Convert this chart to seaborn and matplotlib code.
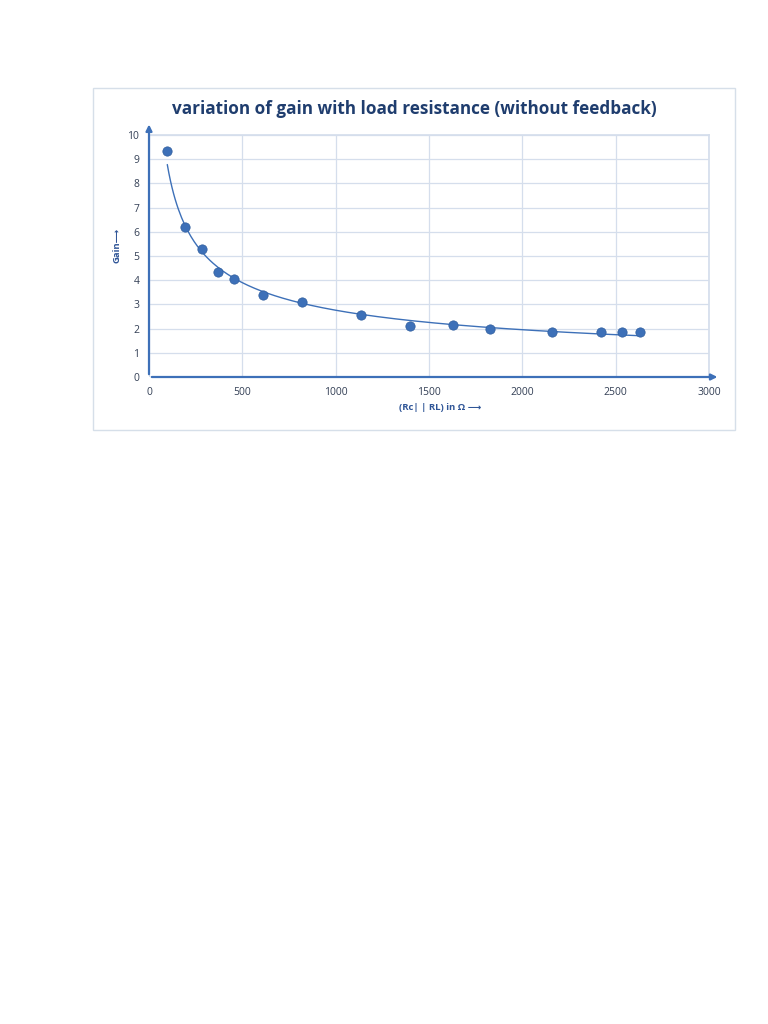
import numpy as np
import pandas as pd
import matplotlib
matplotlib.use("Agg")
import matplotlib.pyplot as plt
import seaborn as sns

# values
resistance = [98, 195, 282, 368, 454, 609, 822, 1138, 1400, 1631, 1828, 2160, 2422, 2533, 2633]
gain = [9.34, 6.20, 5.28, 4.35, 4.03, 3.40, 3.08, 2.58, 2.10, 2.16, 1.98, 1.84, 1.84, 1.84, 1.84]
x_ticks = [0, 500, 1000, 1500, 2000, 2500, 3000]
y_ticks = list(range(0, 11))

df = pd.DataFrame({"R": resistance, "Gain": gain})

sns.set_theme(style="white")
plt.rcParams["font.family"] = ["Open Sans", "DejaVu Sans"]

blue = "#3d70b8"
navy = "#1f3d6e"
grid_col = "#d5deec"

fig = plt.figure(figsize=(7.68, 10.24), dpi=100)

# light frame of the chart area
fig.patches.append(plt.Rectangle((93 / 768, 1 - 430 / 1024), 642 / 768, 342 / 1024,
                                 transform=fig.transFigure, fill=False,
                                 edgecolor="#d6dfe9", linewidth=1.0))

ax = fig.add_axes([149 / 768, 1 - 377 / 1024, 560 / 768, 242 / 1024])

# power trendline fitted in log-log space
b, log_a = np.polyfit(np.log(df["R"]), np.log(df["Gain"]), 1)
xs = np.linspace(df["R"].min(), df["R"].max(), 300)
trend = pd.DataFrame({"R": xs, "Gain": np.exp(log_a) * xs ** b})
sns.lineplot(data=trend, x="R", y="Gain", ax=ax, color=blue, linewidth=1.0)

sns.scatterplot(data=df, x="R", y="Gain", ax=ax, color=blue, s=45,
                edgecolor="#2f5e9e", linewidth=0.5, zorder=5)

ax.set_xlim(0, 3000)
ax.set_ylim(0, 10)
ax.set_xticks(x_ticks)
ax.set_yticks(y_ticks)
ax.grid(True, color=grid_col, linewidth=0.9)
ax.tick_params(axis="both", labelsize=7.5, colors="#333f55", length=0, pad=7)
ax.set_xlabel("")
ax.set_ylabel("")
for side in ["top", "right"]:
    ax.spines[side].set_color(grid_col)
for side in ["left", "bottom"]:
    ax.spines[side].set_visible(False)

# axis arrows
ax.annotate("", xy=(3060, 0), xytext=(0, 0), xycoords="data",
            arrowprops=dict(arrowstyle="-|>", color=blue, lw=1.6, mutation_scale=9),
            annotation_clip=False)
ax.annotate("", xy=(0, 10.55), xytext=(0, 0), xycoords="data",
            arrowprops=dict(arrowstyle="-|>", color=blue, lw=1.6, mutation_scale=9),
            annotation_clip=False)

fig.text(414 / 768, 1 - 109 / 1024, "variation of gain with load resistance (without feedback)",
         ha="center", va="center", fontsize=12.3, fontweight="bold", color=navy)
fig.text(440 / 768, 1 - 408 / 1024, "(Rc| | RL) in \u03a9 \u27f6",
         ha="center", va="center", fontsize=6.8, fontweight="bold", color="#2f5597")
fig.text(117 / 768, 1 - 245 / 1024, "Gain\u27f6", rotation=90,
         ha="center", va="center", fontsize=6.8, fontweight="bold", color="#2f5597")

fig.savefig("out.png", dpi=100)
